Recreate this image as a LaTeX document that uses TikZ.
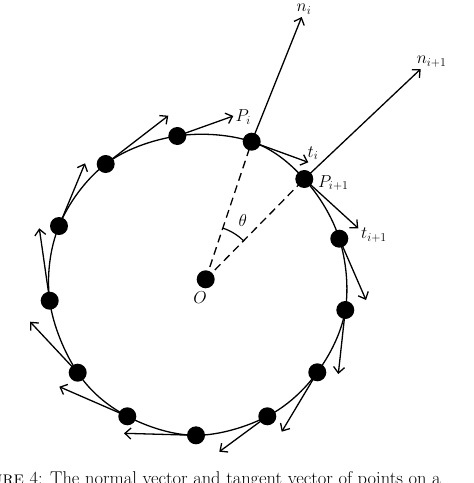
\documentclass[tikz,border=0pt]{standalone}
\usetikzlibrary{arrows.meta}
\begin{document}
\begin{tikzpicture}[x=1pt,y=-1pt,
  dot/.style={circle,fill=black,inner sep=0pt,minimum size=18pt},
  vec/.style={line width=1.3pt,-{Straight Barb[length=6pt,width=11pt,line width=1.3pt]}},
  dashln/.style={line width=1.3pt,dash pattern=on 8pt off 5pt},
  lbl/.style={inner sep=0pt,font=\fontsize{17}{20}\selectfont},
  capt/.style={inner sep=0pt,anchor=base west,font=\fontsize{18.5}{22}\selectfont}]
\useasboundingbox (0,0) rectangle (474,483);
\clip (0,0) rectangle (474,483);
% curve
\draw[line width=1.3pt] plot[smooth cycle,tension=0.6] coordinates {
 (177.3,136) (251.7,141.7) (304.3,179) (339.3,238.7) (345.3,310) (317.3,372.3)
 (267.3,416.3) (196,435.3) (127.3,416.3) (77.7,372.7) (49.7,300.7) (59,226) (105.7,164)};
% centre and points
\node[dot] (O) at (205.7,279.3) {};
\node[dot] (p1) at (177.3,136) {};
\node[dot] (p2) at (251.7,141.7) {};
\node[dot] (p3) at (304.3,179) {};
\node[dot] (p4) at (339.3,238.7) {};
\node[dot] (p5) at (345.3,310) {};
\node[dot] (p6) at (317.3,372.3) {};
\node[dot] (p7) at (267.3,416.3) {};
\node[dot] (p8) at (196,435.3) {};
\node[dot] (p9) at (127.3,416.3) {};
\node[dot] (p10) at (77.7,372.7) {};
\node[dot] (p11) at (49.7,300.7) {};
\node[dot] (p12) at (59,226) {};
\node[dot] (p13) at (105.7,164) {};
% tangent tips
\coordinate (t1) at (233.3,116);
\coordinate (t2) at (308.3,162.3);
\coordinate (t3) at (358.3,228.3);
\coordinate (t4) at (366,300);
\coordinate (t5) at (338.3,374);
\coordinate (t6) at (281.7,431.7);
\coordinate (t7) at (219.3,451.7);
\coordinate (t8) at (124,433.3);
\coordinate (t9) at (59.3,386.7);
\coordinate (t10) at (30,321.7);
\coordinate (t11) at (39.3,228.3);
\coordinate (t12) at (85,163.3);
\coordinate (t13) at (168.3,115.7);
\foreach \k in {1,...,13} {\draw[vec] (p\k.center) -- (t\k);}
% normals
\coordinate (n2) at (301.7,17);
\coordinate (n3) at (420.7,69);
\draw[vec] (p2.center) -- (n2);
\draw[vec] (p3.center) -- (n3);
% dashed radii
\draw[dashln] (O.center) -- (p2.center);
\draw[dashln] (O.center) -- (p3.center);
% angle arc
\draw[line width=1.2pt] ([shift={(-71.5:54)}]O.center) arc[start angle=-71.5,end angle=-45.5,radius=54];
% labels
\node[lbl] (lO) at (200,297.7) {$O$};
\node[lbl] (lth) at (242.7,220.7) {$\theta$};
\node[lbl] (lPi) at (243.3,117) {$P_i$};
\node[lbl] (lti) at (313,153) {$t_i$};
\node[lbl] (lPi1) at (333.3,183) {$P_{i+1}$};
\node[lbl] (lti1) at (374,235) {$t_{i+1}$};
\node[lbl] (lni) at (304,9) {$n_i$};
\node[lbl] (lni1) at (431.7,61.7) {$n_{i+1}$};
% caption (cut off by the picture edge, as in the reference)
\node[capt] (cap) at (50,484) {\llap{\textsc{Figure} 4: }The normal vector and tangent vector of points on a};
\end{tikzpicture}
\end{document}
